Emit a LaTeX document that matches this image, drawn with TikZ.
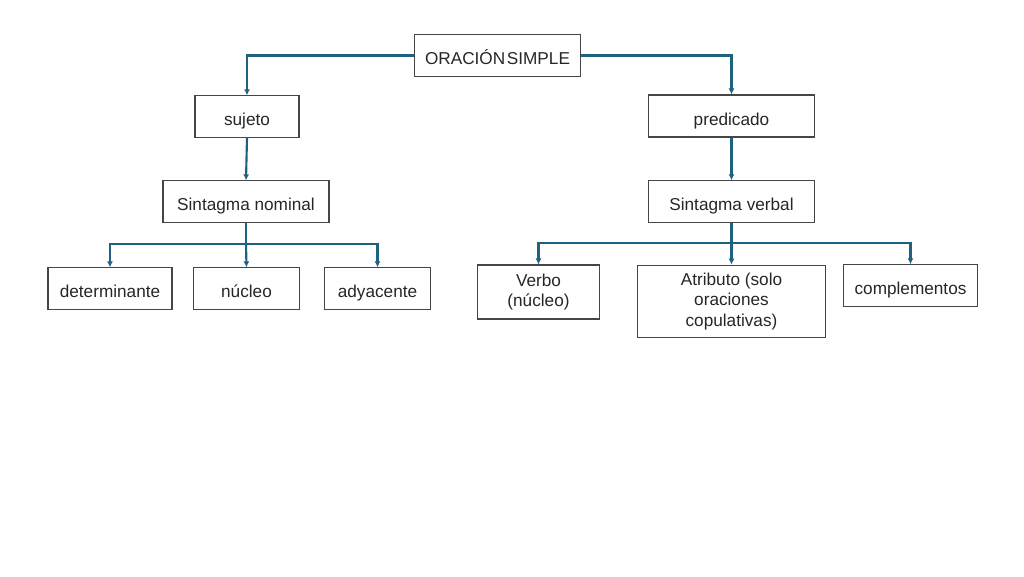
\documentclass[tikz,border=0pt]{standalone}
\usepackage{fontspec}
\setmainfont{Liberation Sans}
\usetikzlibrary{arrows.meta}
\definecolor{linkc}{RGB}{30,98,128}
\definecolor{boxc}{RGB}{70,70,70}
\begin{document}
\begin{tikzpicture}[x=0.75pt,y=-0.75pt,
  box/.style={draw=boxc,line width=0.8pt,inner sep=0pt,align=center,
    font=\fontsize{12.9}{15.5}\selectfont,text=black!85},
  one/.style={box,text height=15pt,text depth=1pt},
  link/.style={draw=linkc,line width=1.6pt,-{Latex[length=4.5pt,width=4.5pt]}},
  plain/.style={draw=linkc,line width=1.6pt}]
\useasboundingbox (0,0) rectangle (1024,576);
\node[one,minimum width=124pt,minimum height=31pt] (os) at (497.5,55.5) {ORACIÓN\hspace{1.2pt}SIMPLE};
\node[one,minimum width=78pt,minimum height=31pt] (suj) at (247,116.5) {sujeto};
\node[one,minimum width=125pt,minimum height=31.5pt] (pred) at (731.5,116) {predicado};
\node[one,minimum width=124.5pt,minimum height=31pt] (sn) at (246,201.5) {Sintagma nominal};
\node[one,minimum width=125pt,minimum height=31pt] (sv) at (731.5,201.5) {Sintagma verbal};
\node[one,minimum width=93pt,minimum height=31pt] (det) at (110,288.5) {determinante};
\node[one,minimum width=79pt,minimum height=31pt] (nuc) at (246.5,288.5) {núcleo};
\node[one,minimum width=79pt,minimum height=31pt] (ady) at (377.5,288.5) {adyacente};
\node[box,minimum width=92pt,minimum height=40.5pt] (verbo) at (538.5,292) {Verbo\\(núcleo)};
\node[box,minimum width=141.5pt,minimum height=54.5pt] (atr) at (731.5,301.5) {Atributo (solo\\oraciones\\copulativas)};
\node[one,minimum width=101pt,minimum height=31pt] (comp) at (910.5,285.5) {complementos};
% top level
\draw[link] (os.west) -| (suj.north);
\draw[link] (os.east) -| (pred.north);
\draw[link] (suj.south) -- (sn.north);
\draw[link] (pred.south) -- (sv.north);
% sintagma nominal
\coordinate (snj) at (246,244);
\draw[plain] (sn.south) -- (snj);
\draw[link] (snj) -| (det.north);
\draw[link] (snj) -| (ady.north);
\draw[link] (snj) -- (nuc.north);
% sintagma verbal
\coordinate (svj) at (731.5,243);
\draw[plain] (sv.south) -- (svj);
\draw[link] (svj) -| (verbo.north);
\draw[link] (svj) -| (comp.north);
\draw[link] (svj) -- (atr.north);
\end{tikzpicture}
\end{document}
